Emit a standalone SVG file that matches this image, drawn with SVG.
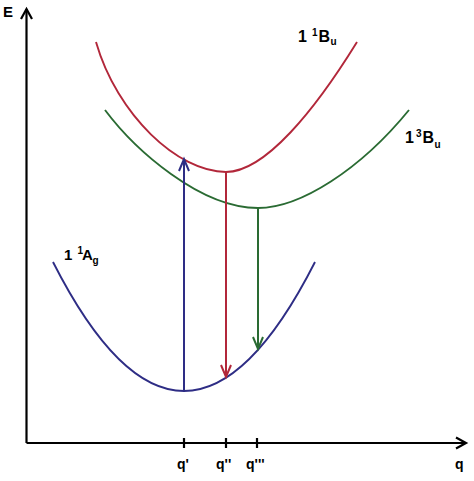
<svg xmlns="http://www.w3.org/2000/svg" width="474" height="481" viewBox="0 0 474 481">
<style>
.lbl{font-family:"Liberation Sans",Arial,sans-serif;font-weight:bold;fill:#000}
.big{font-size:16px}
.mid{font-size:14px}
.sm{font-size:10px}
.axis{stroke:#000;stroke-width:2.2;fill:none}
.curve{fill:none;stroke-width:1.9}
.arr{fill:none;stroke-width:2}
</style>
<defs>
<marker id="hk" markerUnits="userSpaceOnUse" markerWidth="20" markerHeight="20" refX="0" refY="0" orient="auto" overflow="visible"><path d="M-10,-5.5 L0,0 L-10,5.5" fill="none" stroke="#000" stroke-width="2.2"/></marker>
<marker id="hb" markerUnits="userSpaceOnUse" markerWidth="20" markerHeight="20" refX="0" refY="0" orient="auto" overflow="visible"><path d="M-12,-5 L0,0 L-12,5" fill="none" stroke="#2e2d85" stroke-width="2"/></marker>
<marker id="hr" markerUnits="userSpaceOnUse" markerWidth="20" markerHeight="20" refX="0" refY="0" orient="auto" overflow="visible"><path d="M-12,-5 L0,0 L-12,5" fill="none" stroke="#b2273a" stroke-width="2"/></marker>
<marker id="hg" markerUnits="userSpaceOnUse" markerWidth="20" markerHeight="20" refX="0" refY="0" orient="auto" overflow="visible"><path d="M-12,-5 L0,0 L-12,5" fill="none" stroke="#2a6b33" stroke-width="2"/></marker>
</defs>
<rect width="474" height="481" fill="#fff"/>
<g id="axes">
<line class="axis" x1="26.5" y1="443" x2="26.5" y2="9" marker-end="url(#hk)"/>
<line class="axis" x1="26.5" y1="443" x2="466" y2="443" marker-end="url(#hk)"/>
<line class="axis" x1="184" y1="438" x2="184" y2="448"/>
<line class="axis" x1="226" y1="438" x2="226" y2="448"/>
<line class="axis" x1="257" y1="438" x2="257" y2="448"/>
<text class="lbl" font-size="15" x="3" y="17">E</text>
<text class="lbl mid" x="455" y="469">q</text>
<text class="lbl mid" x="177" y="469">q'</text>
<text class="lbl mid" x="216" y="469">q''</text>
<text class="lbl mid" x="246" y="469">q'''</text>
</g>
<g id="curve-1Bu">
<path class="curve" stroke="#b2273a" d="M96,42 C117,115 178,172 226,172 C265,172 315,110 357,42"/>
<text class="lbl"><tspan class="big" x="298" y="42">1</tspan><tspan class="sm" x="312" y="35.5">1</tspan><tspan class="big" x="318.5" y="42">B</tspan><tspan class="sm" x="330.5" y="45">u</tspan></text>
</g>
<g id="curve-3Bu">
<path class="curve" stroke="#2a6b33" d="M105,110 C135,150 200,208 258,208 C300,208 360,170 409,110"/>
<text class="lbl"><tspan class="big" x="405" y="143">1</tspan><tspan class="sm" x="416" y="136.5">3</tspan><tspan class="big" x="422.5" y="143">B</tspan><tspan class="sm" x="434.5" y="147.5">u</tspan></text>
</g>
<g id="curve-1Ag">
<path class="curve" stroke="#2e2d85" d="M53,262 Q184,520 315,262"/>
<text class="lbl"><tspan font-size="15" x="64" y="260">1</tspan><tspan class="sm" x="77.5" y="254">1</tspan><tspan font-size="15" x="82" y="260">A</tspan><tspan class="sm" x="92.5" y="264">g</tspan></text>
</g>
<g id="transitions">
<line class="arr" stroke="#2e2d85" x1="184" y1="391" x2="184" y2="159" marker-end="url(#hb)"/>
<line class="arr" stroke="#b2273a" x1="226" y1="172" x2="226" y2="377" marker-end="url(#hr)"/>
<line class="arr" stroke="#2a6b33" x1="258" y1="208" x2="258" y2="349" marker-end="url(#hg)"/>
</g>
</svg>
